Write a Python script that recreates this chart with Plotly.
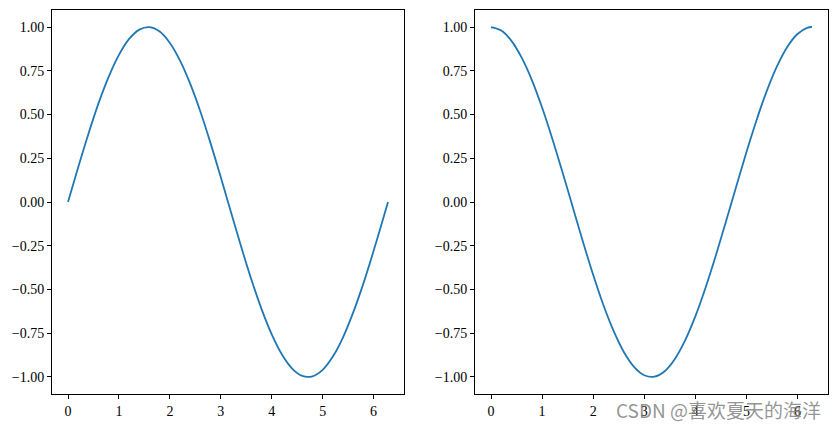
import plotly.graph_objects as go

x_vals = [0, 0.2, 0.4, 0.6, 0.8, 1.0, 1.2, 1.4, 1.6, 1.8, 2.0, 2.2, 2.4, 2.6, 2.8, 3.0, 3.2,
          3.4, 3.6, 3.8, 4.0, 4.2, 4.4, 4.6, 4.8, 5.0, 5.2, 5.4, 5.6, 5.8, 6.0, 6.2, 6.283]
y_sin = [0.0, 0.199, 0.389, 0.565, 0.717, 0.841, 0.932, 0.985, 0.9996, 0.974, 0.909, 0.808,
         0.675, 0.516, 0.335, 0.141, -0.058, -0.256, -0.443, -0.612, -0.757, -0.872, -0.952,
         -0.994, -0.996, -0.959, -0.883, -0.773, -0.631, -0.465, -0.279, -0.083, 0.0]
y_cos = [1.0, 0.980, 0.921, 0.825, 0.697, 0.540, 0.362, 0.170, -0.029, -0.227, -0.416, -0.589,
         -0.737, -0.857, -0.942, -0.990, -0.998, -0.967, -0.897, -0.791, -0.654, -0.490, -0.307,
         -0.112, 0.087, 0.284, 0.469, 0.635, 0.776, 0.886, 0.960, 0.997, 1.0]

x_ticks = [0, 1, 2, 3, 4, 5, 6]
y_ticks = [-1.0, -0.75, -0.5, -0.25, 0.0, 0.25, 0.5, 0.75, 1.0]

line_color = "#1f77b4"
font = dict(family="Times New Roman, Liberation Serif, serif", size=14, color="black")

fig = go.Figure()
fig.add_trace(go.Scatter(x=x_vals, y=y_sin, mode="lines", line=dict(color=line_color, width=1.8, shape="spline"),
                         xaxis="x", yaxis="y", showlegend=False))
fig.add_trace(go.Scatter(x=x_vals, y=y_cos, mode="lines", line=dict(color=line_color, width=1.8, shape="spline"),
                         xaxis="x2", yaxis="y2", showlegend=False))

ax_common = dict(showgrid=False, zeroline=False, showline=True, linecolor="black", linewidth=1,
                 mirror=True, ticks="outside", ticklen=4, tickcolor="black", tickwidth=1,
                 tickfont=font)

fig.update_layout(
    width=829, height=420,
    margin=dict(l=0, r=0, t=0, b=0),
    paper_bgcolor="white", plot_bgcolor="white",
    xaxis=dict(domain=[0.0531, 0.4777], range=[-0.314, 6.597], tickvals=x_ticks, anchor="y", **ax_common),
    yaxis=dict(domain=[0.0798, 0.9964], range=[-1.1, 1.1], tickvals=y_ticks, tickformat=".2f", anchor="x", **ax_common),
    xaxis2=dict(domain=[0.5633, 0.9891], range=[-0.314, 6.597], tickvals=x_ticks, anchor="y2", **ax_common),
    yaxis2=dict(domain=[0.0798, 0.9964], range=[-1.1, 1.1], tickvals=y_ticks, tickformat=".2f", anchor="x2", **ax_common),
    annotations=[dict(text="CSDN @喜欢夏天的海洋", xref="paper", yref="paper", x=0.983, y=0.045,
                      xanchor="right", yanchor="middle", showarrow=False,
                      font=dict(family="Noto Sans CJK SC, sans-serif", size=19, color="rgba(130,130,130,0.85)"))],
)

fig.write_html("out.html")
